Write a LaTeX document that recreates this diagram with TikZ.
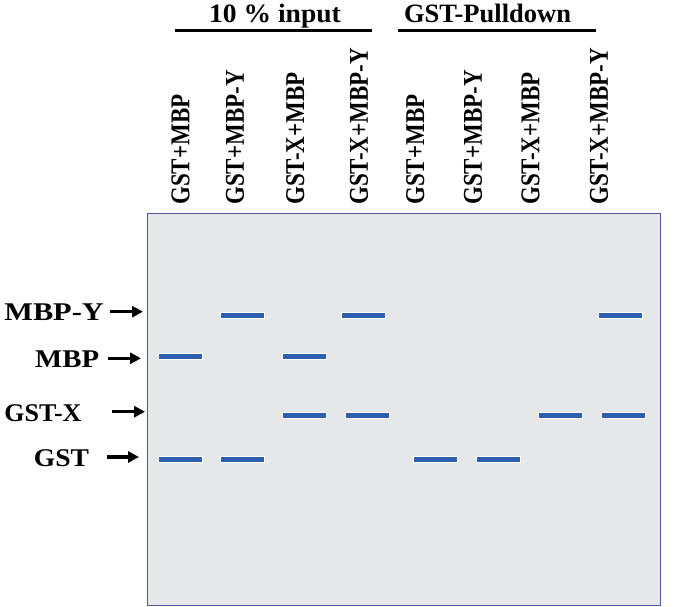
\documentclass[tikz,border=0pt]{standalone}
\usepackage{fontspec}
\setmainfont{Liberation Serif}
\usepackage{graphicx}
\usetikzlibrary{arrows.meta}
\definecolor{gelfill}{HTML}{E6E7E9}
\definecolor{gelborder}{HTML}{4A56A0}
\definecolor{bandblue}{HTML}{2F5EAE}
\newcommand\sxs[2]{\scalebox{#1}[1]{#2}}
\newcommand\sys[1]{\scalebox{1}[1.18]{#1}}
\tikzset{
  x=1pt, y=-1pt,
  headlbl/.style={inner sep=0, anchor=base, font=\bfseries\fontsize{26.5}{30}\selectfont},
  sidelbl/.style={inner sep=0, anchor=base east, font=\bfseries\fontsize{25.5}{30}\selectfont},
  lanelbl/.style={inner sep=0, rotate=90, anchor=west, font=\bfseries\fontsize{23}{27}\selectfont},
  bandbox/.style={fill=bandblue, draw=white, line width=0.7pt, minimum width=44pt, minimum height=6pt, inner sep=0},
  markarrow/.style={line width=3.2pt, -{Triangle[length=11pt,width=11pt]}},
  headline/.style={line width=3.2pt}
}
\begin{document}
\begin{tikzpicture}
\useasboundingbox (0,0) rectangle (685,607);
% gel
\node[draw=gelborder, fill=gelfill, line width=1.3pt, inner sep=0, minimum width=513pt, minimum height=392pt, anchor=north west] (gel) at (147,213) {};
% headings
\node[headlbl] (h1) at (275,22.7) {\sxs{1.04}{10 \% input}};
\node[headlbl] (h2) at (487.5,22.7) {\sxs{1.0}{GST-Pulldown}};
\coordinate (l1s) at (175,30.7); \coordinate (l1e) at (372,30.7);
\coordinate (l2s) at (398,30.7); \coordinate (l2e) at (596,30.7);
\draw[headline] (l1s) -- (l1e);
\draw[headline] (l2s) -- (l2e);
% lane labels
\node[lanelbl] (t1) at (180.5,205) {\sys{GST+MBP}};
\node[lanelbl] (t2) at (235,205) {\sys{GST+MBP-Y}};
\node[lanelbl] (t3) at (295.3,205) {\sys{GST-X+MBP}};
\node[lanelbl] (t4) at (359,205) {\sys{GST-X+MBP-Y}};
\node[lanelbl] (t5) at (415.3,205) {\sys{GST+MBP}};
\node[lanelbl] (t6) at (473,205) {\sys{GST+MBP-Y}};
\node[lanelbl] (t7) at (530.5,205) {\sys{GST-X+MBP}};
\node[lanelbl] (t8) at (599,205) {\sys{GST-X+MBP-Y}};
% side labels
\node[sidelbl] (s1) at (104,320) {\sxs{1.19}{MBP-Y}};
\node[sidelbl] (s2) at (99.3,367) {\sxs{1.13}{MBP}};
\node[sidelbl] (s3) at (81.7,421) {\sxs{1.02}{GST-X}};
\node[sidelbl] (s4) at (89.3,466) {\sxs{1.08}{GST}};
% arrows
\coordinate (a1s) at (110,311.7); \coordinate (a1e) at (143,311.7);
\coordinate (a2s) at (108,358.3); \coordinate (a2e) at (141,358.3);
\coordinate (a3s) at (111.5,411.7); \coordinate (a3e) at (145,411.7);
\coordinate (a4s) at (106.5,457); \coordinate (a4e) at (139,457);
\draw[markarrow] (a1s) -- (a1e);
\draw[markarrow] (a2s) -- (a2e);
\draw[markarrow] (a3s) -- (a3e);
\draw[markarrow] (a4s) -- (a4e);
% bands: MBP-Y row
\node[bandbox] (b2y) at (242.2,315) {};
\node[bandbox] (b4y) at (363.8,315) {};
\node[bandbox] (b8y) at (620.3,315) {};
% MBP row
\node[bandbox] (b1m) at (180.3,356.7) {};
\node[bandbox] (b3m) at (304,356.7) {};
% GST-X row
\node[bandbox] (b3x) at (304,415.7) {};
\node[bandbox] (b4x) at (367,415.7) {};
\node[bandbox] (b7x) at (560.7,415.7) {};
\node[bandbox] (b8x) at (623.7,415.7) {};
% GST row
\node[bandbox] (b1g) at (180.3,459.7) {};
\node[bandbox] (b2g) at (242.2,459.7) {};
\node[bandbox] (b5g) at (435.7,459.7) {};
\node[bandbox] (b6g) at (498.8,459.7) {};
\end{tikzpicture}
\end{document}
